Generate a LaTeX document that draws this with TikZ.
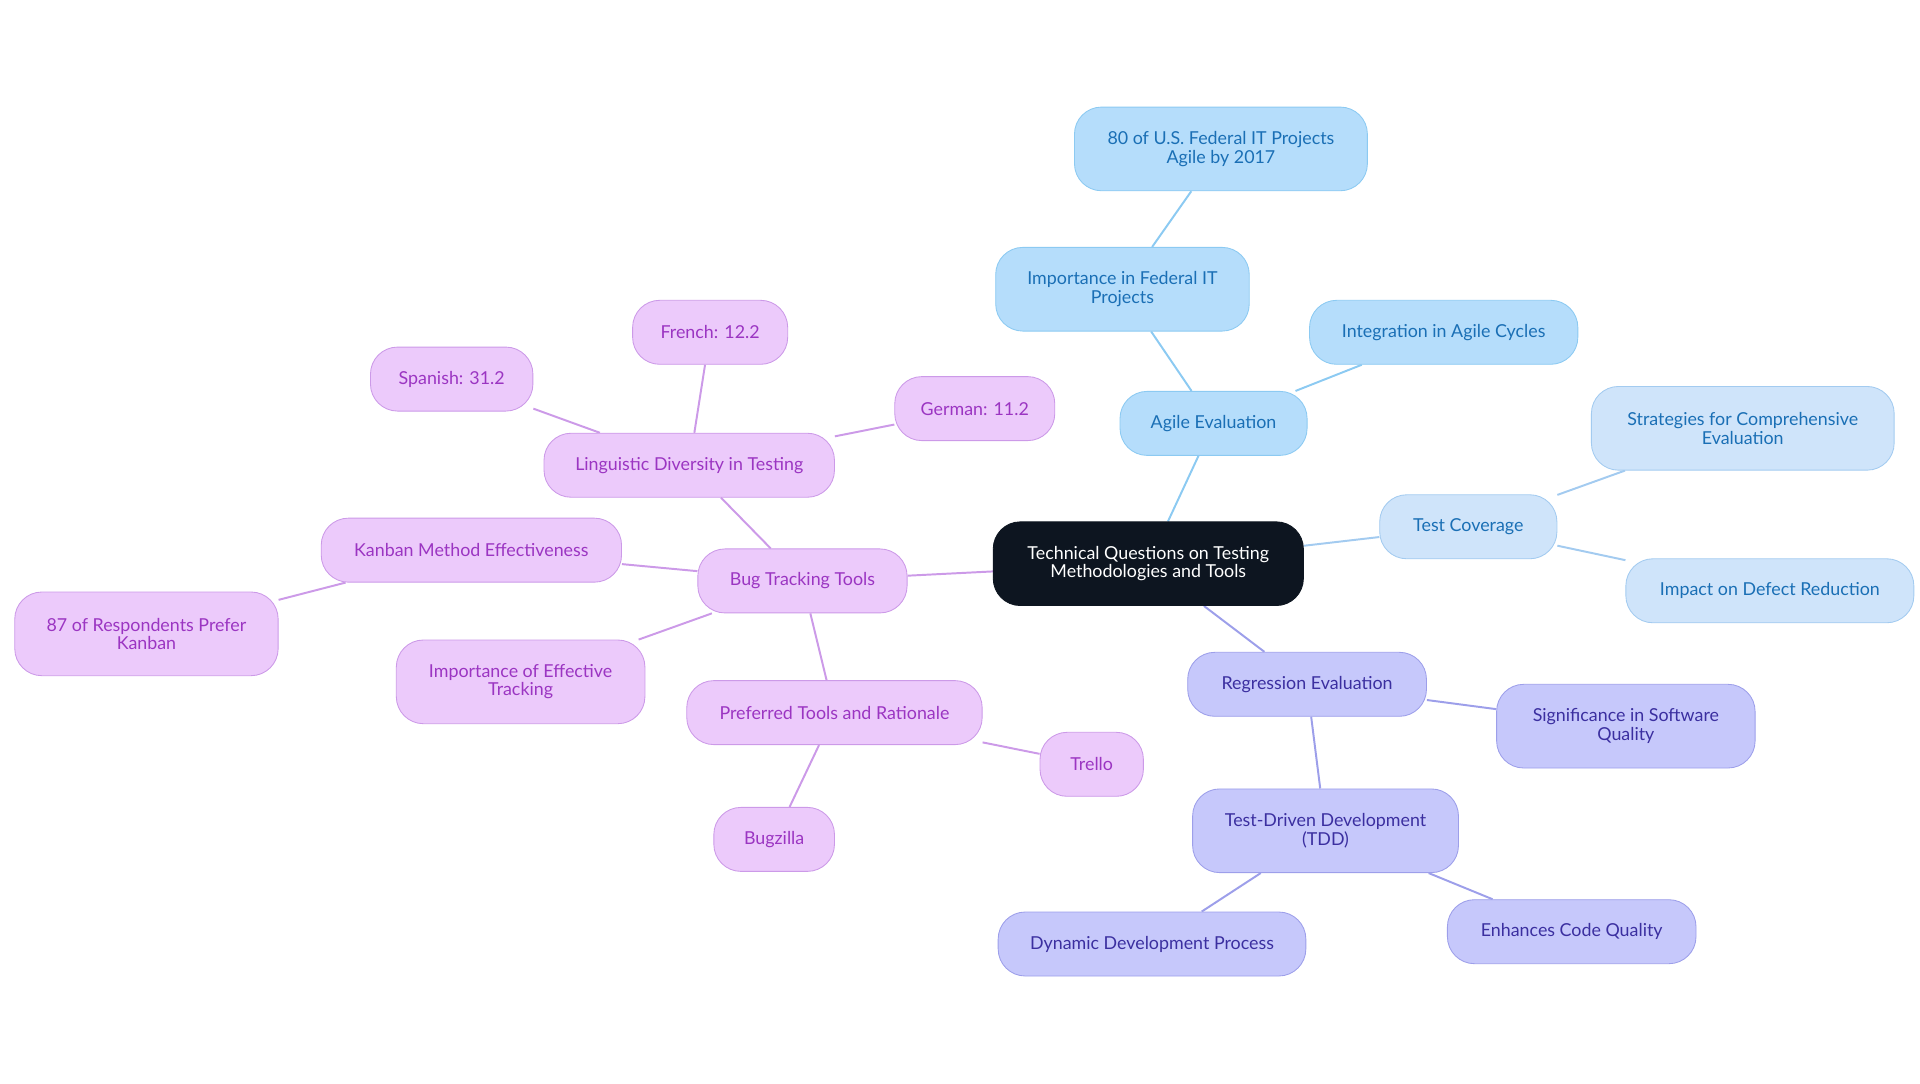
\documentclass[tikz,border=0pt]{standalone}
\usepackage{fontspec}
\setmainfont{Lato}
\usetikzlibrary{backgrounds}

\definecolor{rootfill}{HTML}{0D1520}
\definecolor{agfill}{HTML}{B5DDFB}\definecolor{agdraw}{HTML}{8CCAF2}\definecolor{agtext}{HTML}{1A6FB5}
\definecolor{tcfill}{HTML}{CFE4FA}\definecolor{tcdraw}{HTML}{A3CBF0}
\definecolor{rgfill}{HTML}{C6C8FB}\definecolor{rgdraw}{HTML}{9D9FEA}\definecolor{rgtext}{HTML}{3B2FA0}
\definecolor{bgfill}{HTML}{ECCAFB}\definecolor{bgdraw}{HTML}{CC9AE8}\definecolor{bgtext}{HTML}{9B35C2}

\tikzset{
  box/.style={rounded corners=22pt,minimum height=52pt,align=center,
    font=\fontsize{14.5}{15}\selectfont,line width=0.7pt},
  root/.style={box,fill=rootfill,draw=rootfill,text=white,minimum height=68pt},
  agile/.style={box,fill=agfill,draw=agdraw,text=agtext},
  cover/.style={box,fill=tcfill,draw=tcdraw,text=agtext},
  regr/.style={box,fill=rgfill,draw=rgdraw,text=rgtext},
  bug/.style={box,fill=bgfill,draw=bgdraw,text=bgtext},
  tall/.style={minimum height=68pt},
  link/.style={line width=1.6pt},
}

\begin{document}
\begin{tikzpicture}[x=1pt,y=-1pt]
  \useasboundingbox (0,0) rectangle (1560,880);

  \node[root,minimum width=252pt] (root) at (933,458) {Technical Questions on Testing\\Methodologies and Tools};

  % agile branch
  \node[agile,minimum width=152pt] (agile) at (986,344) {Agile Evaluation};
  \node[agile,tall,minimum width=206pt] (fed) at (912,235) {Importance in Federal IT\\Projects};
  \node[agile,tall,minimum width=238pt] (eighty) at (992,121) {80 of U.S. Federal IT Projects\\Agile by 2017};
  \node[agile,minimum width=218pt] (cycles) at (1173,270) {Integration in Agile Cycles};

  % coverage branch
  \node[cover,minimum width=144pt] (cover) at (1193,428) {Test Coverage};
  \node[cover,tall,minimum width=246pt] (strat) at (1416,348) {Strategies for Comprehensive\\Evaluation};
  \node[cover,minimum width=234pt] (defect) at (1438,480) {Impact on Defect Reduction};

  % regression branch
  \node[regr,minimum width=194pt] (regr) at (1062,556) {Regression Evaluation};
  \node[regr,tall,minimum width=210pt] (signif) at (1321,590) {Significance in Software\\Quality};
  \node[regr,tall,minimum width=216pt] (tdd) at (1077,675) {Test-Driven Development\\(TDD)};
  \node[regr,minimum width=250pt] (dynamic) at (936,767) {Dynamic Development Process};
  \node[regr,minimum width=202pt] (enh) at (1277,757) {Enhances Code Quality};

  % bug tracking branch
  \node[bug,minimum width=170pt] (bug) at (652,472) {Bug Tracking Tools};
  \node[bug,minimum width=236pt] (ling) at (560,378) {Linguistic Diversity in Testing};
  \node[bug,minimum width=126pt] (french) at (577,270) {French: 12.2};
  \node[bug,minimum width=132pt] (spanish) at (367,308) {Spanish: 31.2};
  \node[bug,minimum width=130pt] (german) at (792,332) {German: 11.2};
  \node[bug,minimum width=244pt] (kanban) at (383,447) {Kanban Method Effectiveness};
  \node[bug,tall,minimum width=214pt] (prefer) at (119,515) {87 of Respondents Prefer\\Kanban};
  \node[bug,tall,minimum width=202pt] (track) at (423,554) {Importance of Effective\\Tracking};
  \node[bug,minimum width=240pt] (tools) at (678,579) {Preferred Tools and Rationale};
  \node[bug,minimum width=84pt] (trello) at (887,621) {Trello};
  \node[bug,minimum width=98pt] (bugzilla) at (629,682) {Bugzilla};

  \begin{scope}[on background layer]
    \draw[link,agdraw] (root) -- (agile) (agile) -- (fed) (fed) -- (eighty) (agile) -- (cycles);
    \draw[link,tcdraw] (root) -- (cover) (cover) -- (strat) (cover) -- (defect);
    \draw[link,rgdraw] (root) -- (regr) (regr) -- (signif) (regr) -- (tdd)
      (tdd) -- (dynamic) (tdd) -- (enh);
    \draw[link,bgdraw] (root) -- (bug) (bug) -- (ling) (ling) -- (french) (ling) -- (spanish)
      (ling) -- (german) (bug) -- (kanban) (kanban) -- (prefer) (bug) -- (track)
      (bug) -- (tools) (tools) -- (trello) (tools) -- (bugzilla);
  \end{scope}

\end{tikzpicture}
\end{document}
